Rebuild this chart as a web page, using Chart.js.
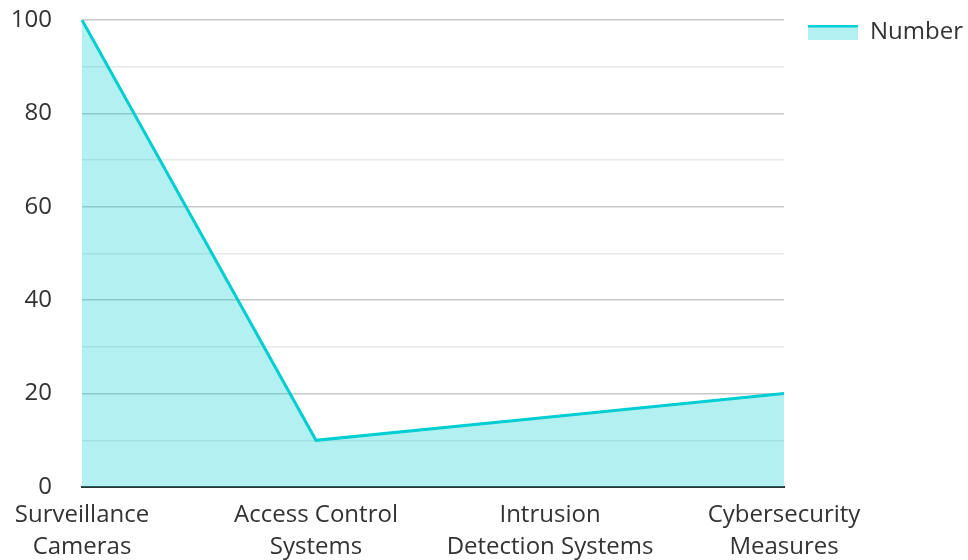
<!DOCTYPE html>
<html>
<head>
<meta charset="utf-8">
<script src="https://cdn.jsdelivr.net/npm/chart.js@4/dist/chart.umd.min.js"></script>
<style>
  html, body { margin: 0; padding: 0; background: #ffffff; }
  #wrap { width: 968px; height: 560px; }
</style>
</head>
<body>
<div id="wrap"><canvas id="c" width="968" height="560"></canvas></div>
<script>
// Security measures and how many of each are in place
const categories = [
  ["Surveillance", "Cameras"],
  ["Access Control", "Systems"],
  ["Intrusion", "Detection Systems"],
  ["Cybersecurity", "Measures"]
];
const numberValues = [100, 10, 15, 20];
const yTickValues = [0, 20, 40, 60, 80, 100];

const lineColor = '#00CED1';
const fillColor = 'rgba(0, 206, 209, 0.3)';

// Legend swatch: filled band with a solid line along its top edge
const swatch = document.createElement('canvas');
swatch.width = 50;
swatch.height = 15;
(function () {
  const g = swatch.getContext('2d');
  g.fillStyle = fillColor;
  g.fillRect(0, 0, 50, 15);
  g.fillStyle = lineColor;
  g.fillRect(0, 0, 50, 3);
})();

Chart.defaults.font.family = '"Open Sans", "Noto Sans", sans-serif';
Chart.defaults.font.size = 24;
Chart.defaults.color = '#333333';

new Chart(document.getElementById('c'), {
  type: 'line',
  data: {
    labels: categories,
    datasets: [{
      label: 'Number',
      data: numberValues,
      borderColor: lineColor,
      backgroundColor: fillColor,
      borderWidth: 3,
      fill: 'origin',
      tension: 0,
      pointRadius: 0,
      pointHoverRadius: 0,
      pointStyle: swatch
    }]
  },
  options: {
    responsive: false,
    animation: false,
    layout: { padding: { top: -4, left: 0, right: -5, bottom: 0 } },
    plugins: {
      tooltip: { enabled: false },
      legend: {
        position: 'right',
        align: 'start',
        labels: {
          usePointStyle: true,
          pointStyleWidth: 50,
          boxHeight: 15,
          padding: 24,
          color: '#333333',
          font: { size: 24 }
        }
      }
    },
    scales: {
      x: {
        offset: false,
        grid: { display: false, drawTicks: false },
        border: { display: true, color: '#333333', width: 2 },
        ticks: {
          padding: 13,
          maxRotation: 0,
          autoSkip: false,
          font: { size: 24, lineHeight: 1.3 }
        },
        afterFit: (scale) => { scale.height = 73; }
      },
      y: {
        min: 0,
        max: 100,
        border: { display: false },
        grid: {
          drawTicks: false,
          lineWidth: 1.5,
          color: (ctx) => {
            const v = ctx.tick ? ctx.tick.value : 0;
            return yTickValues.includes(v) ? '#c8c8c8' : '#e8e8e8';
          }
        },
        ticks: {
          stepSize: 10,
          padding: 30,
          font: { size: 24 },
          callback: (v) => yTickValues.includes(v) ? String(v) : ''
        },
        afterFit: (scale) => {
          scale.width = 82;
          scale.paddingTop = 20;
          scale.paddingBottom = 0;
        }
      }
    }
  }
});
</script>
</body>
</html>
